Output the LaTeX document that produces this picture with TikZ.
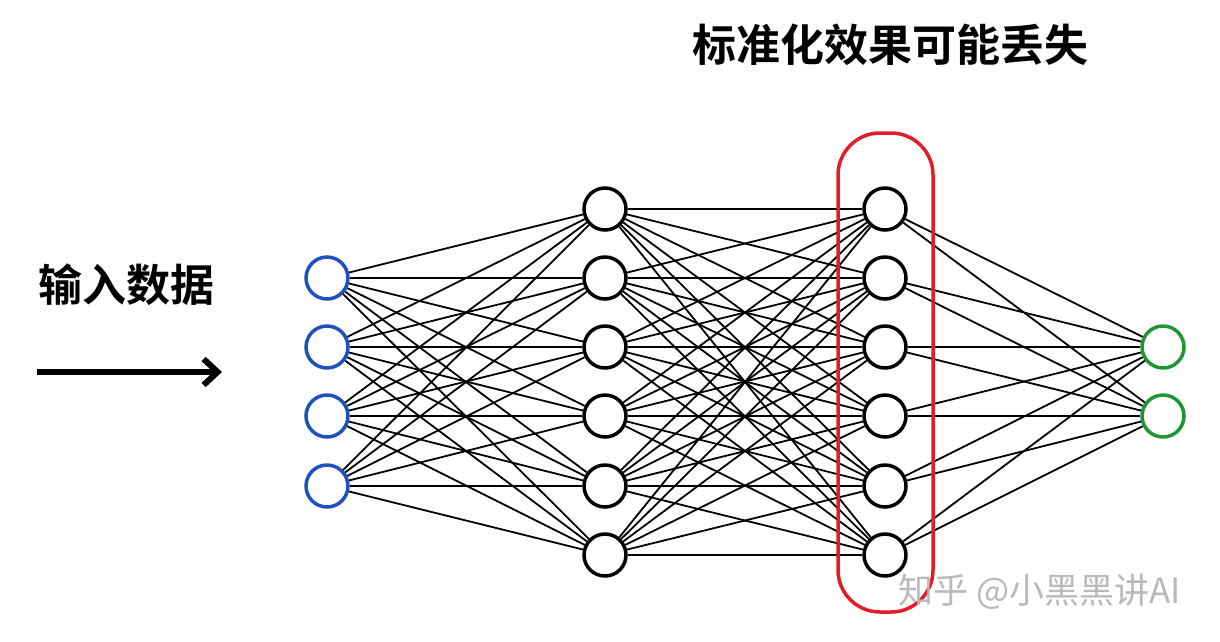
\documentclass[tikz,border=0pt]{standalone}
\usepackage{fontspec}
\usetikzlibrary{arrows.meta}
\newfontfamily\cjk{Noto Sans CJK SC}[BoldFont={Noto Sans CJK SC Bold}]
\begin{document}
\begin{tikzpicture}[x=1pt,y=-1pt,
  neu/.style={circle,draw,line width=3.5pt,minimum size=42pt,inner sep=0pt,fill=white},
  edge/.style={line width=1.8pt}]
\useasboundingbox (0,0) rectangle (1220,641);
\definecolor{inblue}{RGB}{30,80,190}
\definecolor{outgreen}{RGB}{30,150,50}
\definecolor{redbox}{RGB}{225,30,40}
\foreach \i/\y in {1/278,2/347,3/416,4/486} \node[neu,draw=inblue] (a\i) at (327,\y) {};
\foreach \i/\y in {1/209,2/278,3/347,4/416,5/486,6/555} {
  \node[neu] (b\i) at (605,\y) {};
  \node[neu] (c\i) at (885,\y) {};}
\foreach \i/\y in {1/347,2/416} \node[neu,draw=outgreen] (d\i) at (1163,\y) {};
\foreach \i in {1,...,4} \foreach \j in {1,...,6} \draw[edge] (a\i) -- (b\j);
\foreach \i in {1,...,6} \foreach \j in {1,...,6} \draw[edge] (b\i) -- (c\j);
\foreach \i in {1,...,6} \foreach \j in {1,2} \draw[edge] (c\i) -- (d\j);
\draw[redbox,line width=3.5pt,rounded corners=42pt] (838,133) rectangle (933,612);
\node[font=\cjk\bfseries\fontsize{44}{50}\selectfont] (t1) at (890,45) {标准化效果可能丢失};
\node[font=\cjk\bfseries\fontsize{44}{50}\selectfont] (t2) at (126,285) {输入数据};
\coordinate (s) at (37,372); \coordinate (e) at (222,372);
\draw[line width=6pt,-{Straight Barb[length=14pt,width=26pt]}] (s) -- (e);
\node[font=\cjk\fontsize{35}{40}\selectfont,text=gray!55,anchor=west] (w) at (895,592) {知乎 @小黑黑讲AI};
\end{tikzpicture}
\end{document}
